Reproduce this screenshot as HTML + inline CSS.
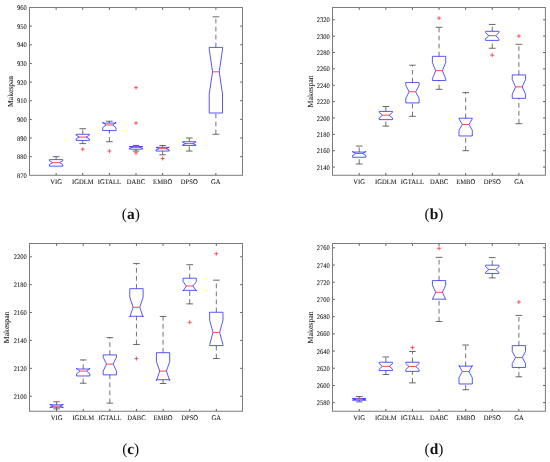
<!DOCTYPE html>
<html><head><meta charset="utf-8"><title>Boxplots</title>
<style>
html,body{margin:0;padding:0;background:#fff}
svg{display:block}
text{font-family:"Liberation Serif","DejaVu Serif",serif;fill:#111;stroke:#111;stroke-width:.06;text-rendering:geometricPrecision}
.ax{stroke:#7c7c7c;stroke-width:1;fill:none}
.tk{stroke:#5c5c5c;stroke-width:1;fill:none}
.bx{stroke:#2626ff;stroke-width:.78;fill:none;stroke-linejoin:miter}
.md{stroke:#ff3030;stroke-width:.9;fill:none}
.wh{stroke:#444;stroke-width:.75;fill:none;stroke-dasharray:4.7 3.3}
.cp{stroke:#444;stroke-width:.8;fill:none}
.ol{stroke:#ff2626;stroke-width:.75;fill:none}
.t{font-size:7.0px;text-anchor:end}
.x{font-size:7.0px;text-anchor:middle}
.y{font-size:7.5px;text-anchor:middle}
.c{font-size:15.4px;text-anchor:middle;fill:#111;stroke:none}
</style></head><body>
<svg width="550" height="462" viewBox="0 0 550 462">
<rect width="550" height="462" fill="#fff"/>
<g id="panel-a">
<path class="tk" d="M29.5 156.66h2.3M242.5 156.66h-2.3M29.5 138.01h2.3M242.5 138.01h-2.3M29.5 119.37h2.3M242.5 119.37h-2.3M29.5 100.72h2.3M242.5 100.72h-2.3M29.5 82.08h2.3M242.5 82.08h-2.3M29.5 63.43h2.3M242.5 63.43h-2.3M29.5 44.79h2.3M242.5 44.79h-2.3M29.5 26.14h2.3M242.5 26.14h-2.3M56.12 175.3v-2.3M56.12 7.5v2.3M82.75 175.3v-2.3M82.75 7.5v2.3M109.38 175.3v-2.3M109.38 7.5v2.3M136 175.3v-2.3M136 7.5v2.3M162.62 175.3v-2.3M162.62 7.5v2.3M189.25 175.3v-2.3M189.25 7.5v2.3M215.88 175.3v-2.3M215.88 7.5v2.3"/>
<rect class="ax" x="29.5" y="7.5" width="213" height="167.8"/>
<text class="t" transform="translate(26.8 177.85) scale(0.93 1)">870</text>
<text class="t" transform="translate(26.8 159.21) scale(0.93 1)">880</text>
<text class="t" transform="translate(26.8 140.56) scale(0.93 1)">890</text>
<text class="t" transform="translate(26.8 121.92) scale(0.93 1)">900</text>
<text class="t" transform="translate(26.8 103.27) scale(0.93 1)">910</text>
<text class="t" transform="translate(26.8 84.63) scale(0.93 1)">920</text>
<text class="t" transform="translate(26.8 65.98) scale(0.93 1)">930</text>
<text class="t" transform="translate(26.8 47.34) scale(0.93 1)">940</text>
<text class="t" transform="translate(26.8 28.69) scale(0.93 1)">950</text>
<text class="t" transform="translate(26.8 10.05) scale(0.93 1)">960</text>
<text class="x" transform="translate(56.12 184.2) scale(0.94 1)">VIG</text>
<text class="x" transform="translate(82.75 184.2) scale(0.94 1)">IGDLM</text>
<text class="x" transform="translate(109.38 184.2) scale(0.94 1)">IGTALL</text>
<text class="x" transform="translate(136 184.2) scale(0.94 1)">DABC</text>
<text class="x" transform="translate(162.62 184.2) scale(0.94 1)">EMBO</text>
<text class="x" transform="translate(189.25 184.2) scale(0.94 1)">DPSO</text>
<text class="x" transform="translate(215.88 184.2) scale(0.94 1)">GA</text>
<text class="y" style="font-size:7.55px" transform="translate(12.9 91.4) rotate(-90) scale(1.0 1)">Makespan</text>
<path class="wh" d="M56.12 159.64V156.66"/><path class="cp" d="M52.8 156.66h6.65"/><path class="bx" d="M49.48 166.16L49.48 164.49L52.8 162.62L49.48 160.76L49.48 159.64L62.77 159.64L62.77 160.76L59.45 162.62L62.77 164.49L62.77 166.16Z"/><path class="md" d="M52.8 162.62h6.65"/>
<path class="wh" d="M82.75 134.28V128.69"/><path class="cp" d="M79.42 128.69h6.65"/><path class="wh" d="M82.75 143.6V140.43"/><path class="cp" d="M79.42 143.6h6.65"/><path class="bx" d="M76.1 140.43L76.1 138.94L79.42 137.08L76.1 135.21L76.1 134.28L89.4 134.28L89.4 135.21L86.08 137.08L89.4 138.94L89.4 140.43Z"/><path class="md" d="M79.42 137.08h6.65"/><path class="ol" d="M80.75 149.2h4M82.75 147.2v4"/>
<path class="wh" d="M109.38 123.1V121.23"/><path class="cp" d="M106.05 121.23h6.65"/><path class="wh" d="M109.38 141.74V130.55"/><path class="cp" d="M106.05 141.74h6.65"/><path class="bx" d="M102.72 130.55L102.72 127.57L106.05 124.96L102.72 122.35L102.72 123.1L116.03 123.1L116.03 122.35L112.7 124.96L116.03 127.57L116.03 130.55Z"/><path class="md" d="M106.05 124.96h6.65"/><path class="ol" d="M107.38 151.06h4M109.38 149.06v4"/>
<path class="wh" d="M136 146.59V145.47"/><path class="cp" d="M132.68 145.47h6.65"/><path class="wh" d="M136 151.06V149.2"/><path class="cp" d="M132.68 151.06h6.65"/><path class="bx" d="M129.35 149.2L129.35 148.27L132.68 147.33L129.35 146.4L129.35 146.59L142.65 146.59L142.65 146.4L139.32 147.33L142.65 148.27L142.65 149.2Z"/><path class="md" d="M132.68 147.33h6.65"/><path class="ol" d="M134 152.93h4M136 150.93v4"/><path class="ol" d="M134 123.1h4M136 121.1v4"/><path class="ol" d="M134 87.67h4M136 85.67v4"/>
<path class="wh" d="M162.62 147.33V145.47"/><path class="cp" d="M159.3 145.47h6.65"/><path class="wh" d="M162.62 154.79V151.06"/><path class="cp" d="M159.3 154.79h6.65"/><path class="bx" d="M155.97 151.06L155.97 149.94L159.3 148.64L155.97 147.33L155.97 147.33L169.28 147.33L169.28 147.33L165.95 148.64L169.28 149.94L169.28 151.06Z"/><path class="md" d="M159.3 148.64h6.65"/><path class="ol" d="M160.62 158.52h4M162.62 156.52v4"/>
<path class="wh" d="M189.25 141.74V138.01"/><path class="cp" d="M185.93 138.01h6.65"/><path class="wh" d="M189.25 151.06V145.47"/><path class="cp" d="M185.93 151.06h6.65"/><path class="bx" d="M182.6 145.47L182.6 144.91L185.93 143.6L182.6 142.3L182.6 141.74L195.9 141.74L195.9 142.3L192.57 143.6L195.9 144.91L195.9 145.47Z"/><path class="md" d="M185.93 143.6h6.65"/>
<path class="wh" d="M215.88 47.4V16.82"/><path class="cp" d="M212.55 16.82h6.65"/><path class="wh" d="M215.88 134.28V113.03"/><path class="cp" d="M212.55 134.28h6.65"/><path class="bx" d="M209.22 113.03L209.22 94.01L212.55 71.82L209.22 49.45L209.22 47.4L222.53 47.4L222.53 49.45L219.2 71.82L222.53 94.01L222.53 113.03Z"/><path class="md" d="M212.55 71.82h6.65"/>
<text class="c" x="130.8" y="218.9">(<tspan font-weight="bold">a</tspan>)</text>
</g>
<g id="panel-b">
<path class="tk" d="M332.5 167.07h2.3M545.4 167.07h-2.3M332.5 150.7h2.3M545.4 150.7h-2.3M332.5 134.34h2.3M545.4 134.34h-2.3M332.5 117.97h2.3M545.4 117.97h-2.3M332.5 101.6h2.3M545.4 101.6h-2.3M332.5 85.24h2.3M545.4 85.24h-2.3M332.5 68.87h2.3M545.4 68.87h-2.3M332.5 52.51h2.3M545.4 52.51h-2.3M332.5 36.14h2.3M545.4 36.14h-2.3M332.5 19.77h2.3M545.4 19.77h-2.3M359.21 175.25v-2.3M359.21 7.5v2.3M385.83 175.25v-2.3M385.83 7.5v2.3M412.44 175.25v-2.3M412.44 7.5v2.3M439.05 175.25v-2.3M439.05 7.5v2.3M465.66 175.25v-2.3M465.66 7.5v2.3M492.27 175.25v-2.3M492.27 7.5v2.3M518.89 175.25v-2.3M518.89 7.5v2.3"/>
<rect class="ax" x="332.5" y="7.5" width="212.9" height="167.75"/>
<text class="t" transform="translate(329.8 169.62) scale(0.93 1)">2140</text>
<text class="t" transform="translate(329.8 153.25) scale(0.93 1)">2160</text>
<text class="t" transform="translate(329.8 136.89) scale(0.93 1)">2180</text>
<text class="t" transform="translate(329.8 120.52) scale(0.93 1)">2200</text>
<text class="t" transform="translate(329.8 104.15) scale(0.93 1)">2220</text>
<text class="t" transform="translate(329.8 87.79) scale(0.93 1)">2240</text>
<text class="t" transform="translate(329.8 71.42) scale(0.93 1)">2260</text>
<text class="t" transform="translate(329.8 55.06) scale(0.93 1)">2280</text>
<text class="t" transform="translate(329.8 38.69) scale(0.93 1)">2300</text>
<text class="t" transform="translate(329.8 22.32) scale(0.93 1)">2320</text>
<text class="x" transform="translate(359.21 184.15) scale(0.94 1)">VIG</text>
<text class="x" transform="translate(385.83 184.15) scale(0.94 1)">IGDLM</text>
<text class="x" transform="translate(412.44 184.15) scale(0.94 1)">IGTALL</text>
<text class="x" transform="translate(439.05 184.15) scale(0.94 1)">DABC</text>
<text class="x" transform="translate(465.66 184.15) scale(0.94 1)">EMBO</text>
<text class="x" transform="translate(492.27 184.15) scale(0.94 1)">DPSO</text>
<text class="x" transform="translate(518.89 184.15) scale(0.94 1)">GA</text>
<text class="y" style="font-size:7.8px" transform="translate(312.6 91.38) rotate(-90) scale(1.0 1)">Makespan</text>
<path class="wh" d="M359.21 152.09V146.04"/><path class="cp" d="M355.89 146.04h6.65"/><path class="wh" d="M359.21 163.96V157.25"/><path class="cp" d="M355.89 163.96h6.65"/><path class="bx" d="M352.56 157.25L352.56 155.53L355.89 153.48L352.56 151.44L352.56 152.09L365.86 152.09L365.86 151.44L362.54 153.48L365.86 155.53L365.86 157.25Z"/><path class="md" d="M355.89 153.48h6.65"/>
<path class="wh" d="M385.83 111.42V106.51"/><path class="cp" d="M382.5 106.51h6.65"/><path class="wh" d="M385.83 126.15V119.61"/><path class="cp" d="M382.5 126.15h6.65"/><path class="bx" d="M379.18 119.61L379.18 117.97L382.5 115.19L379.18 112.41L379.18 111.42L392.48 111.42L392.48 112.41L389.15 115.19L392.48 117.97L392.48 119.61Z"/><path class="md" d="M382.5 115.19h6.65"/>
<path class="wh" d="M412.44 82.54V65.19"/><path class="cp" d="M409.11 65.19h6.65"/><path class="wh" d="M412.44 116.33V102.91"/><path class="cp" d="M409.11 116.33h6.65"/><path class="bx" d="M405.79 102.91L405.79 98.33L409.11 91.78L405.79 85.24L405.79 82.54L419.09 82.54L419.09 85.24L415.76 91.78L419.09 98.33L419.09 102.91Z"/><path class="md" d="M409.11 91.78h6.65"/>
<path class="wh" d="M439.05 56.35V27.3"/><path class="cp" d="M435.73 27.3h6.65"/><path class="wh" d="M439.05 89.33V80.49"/><path class="cp" d="M435.73 89.33h6.65"/><path class="bx" d="M432.4 80.49L432.4 78.69L435.73 70.67L432.4 62.73L432.4 56.35L445.7 56.35L445.7 62.73L442.38 70.67L445.7 78.69L445.7 80.49Z"/><path class="md" d="M435.73 70.67h6.65"/><path class="ol" d="M437.05 18.14h4M439.05 16.14v4"/>
<path class="wh" d="M465.66 118.22V92.6"/><path class="cp" d="M462.34 92.6h6.65"/><path class="wh" d="M465.66 150.7V135.97"/><path class="cp" d="M462.34 150.7h6.65"/><path class="bx" d="M459.01 135.97L459.01 130.24L462.34 124.52L459.01 118.79L459.01 118.22L472.31 118.22L472.31 118.79L468.99 124.52L472.31 130.24L472.31 135.97Z"/><path class="md" d="M462.34 124.52h6.65"/>
<path class="wh" d="M492.27 31.31V24.44"/><path class="cp" d="M488.95 24.44h6.65"/><path class="wh" d="M492.27 48.25V40.4"/><path class="cp" d="M488.95 48.25h6.65"/><path class="bx" d="M485.62 40.4L485.62 38.6L488.95 35.65L485.62 32.7L485.62 31.31L498.92 31.31L498.92 32.7L495.6 35.65L498.92 38.6L498.92 40.4Z"/><path class="md" d="M488.95 35.65h6.65"/><path class="ol" d="M490.27 55.21h4M492.27 53.21v4"/>
<path class="wh" d="M518.89 74.93V44.32"/><path class="cp" d="M515.56 44.32h6.65"/><path class="wh" d="M518.89 123.7V98.33"/><path class="cp" d="M515.56 123.7h6.65"/><path class="bx" d="M512.24 98.33L512.24 94.24L515.56 86.87L512.24 79.51L512.24 74.93L525.54 74.93L525.54 79.51L522.21 86.87L525.54 94.24L525.54 98.33Z"/><path class="md" d="M515.56 86.87h6.65"/><path class="ol" d="M516.89 36.14h4M518.89 34.14v4"/>
<text class="c" x="434" y="218.9">(<tspan font-weight="bold">b</tspan>)</text>
</g>
<g id="panel-c">
<path class="tk" d="M29.5 396.19h2.3M242.5 396.19h-2.3M29.5 368.3h2.3M242.5 368.3h-2.3M29.5 340.41h2.3M242.5 340.41h-2.3M29.5 312.52h2.3M242.5 312.52h-2.3M29.5 284.64h2.3M242.5 284.64h-2.3M29.5 256.75h2.3M242.5 256.75h-2.3M56.58 411.25v-2.3M56.58 243.5v2.3M83.2 411.25v-2.3M83.2 243.5v2.3M109.83 411.25v-2.3M109.83 243.5v2.3M136.45 411.25v-2.3M136.45 243.5v2.3M163.07 411.25v-2.3M163.07 243.5v2.3M189.7 411.25v-2.3M189.7 243.5v2.3M216.32 411.25v-2.3M216.32 243.5v2.3"/>
<rect class="ax" x="29.5" y="243.5" width="213" height="167.75"/>
<text class="t" transform="translate(26.8 398.74) scale(0.93 1)">2100</text>
<text class="t" transform="translate(26.8 370.85) scale(0.93 1)">2120</text>
<text class="t" transform="translate(26.8 342.96) scale(0.93 1)">2140</text>
<text class="t" transform="translate(26.8 315.07) scale(0.93 1)">2160</text>
<text class="t" transform="translate(26.8 287.19) scale(0.93 1)">2180</text>
<text class="t" transform="translate(26.8 259.3) scale(0.93 1)">2200</text>
<text class="x" transform="translate(56.58 420.15) scale(0.94 1)">VIG</text>
<text class="x" transform="translate(83.2 420.15) scale(0.94 1)">IGDLM</text>
<text class="x" transform="translate(109.83 420.15) scale(0.94 1)">IGTALL</text>
<text class="x" transform="translate(136.45 420.15) scale(0.94 1)">DABC</text>
<text class="x" transform="translate(163.07 420.15) scale(0.94 1)">EMBO</text>
<text class="x" transform="translate(189.7 420.15) scale(0.94 1)">DPSO</text>
<text class="x" transform="translate(216.32 420.15) scale(0.94 1)">GA</text>
<text class="y" style="font-size:7.7px" transform="translate(9.4 327.38) rotate(-90) scale(1.0 1)">Makespan</text>
<path class="wh" d="M56.58 404.84V401.77"/><path class="cp" d="M53.25 401.77h6.65"/><path class="wh" d="M56.58 408.88V407.21"/><path class="cp" d="M53.25 408.88h6.65"/><path class="bx" d="M49.93 407.21L49.93 407.69L53.25 406.09L49.93 404.28L49.93 404.84L63.23 404.84L63.23 404.28L59.9 406.09L63.23 407.69L63.23 407.21Z"/><path class="md" d="M53.25 406.09h6.65"/>
<path class="wh" d="M83.2 369V359.93"/><path class="cp" d="M79.88 359.93h6.65"/><path class="wh" d="M83.2 383.22V375.97"/><path class="cp" d="M79.88 383.22h6.65"/><path class="bx" d="M76.55 375.97L76.55 373.88L79.88 371.09L76.55 368.3L76.55 369L89.85 369L89.85 368.3L86.53 371.09L89.85 373.88L89.85 375.97Z"/><path class="md" d="M79.88 371.09h6.65"/>
<path class="wh" d="M109.83 354.92V337.62"/><path class="cp" d="M106.5 337.62h6.65"/><path class="wh" d="M109.83 403.16V374.86"/><path class="cp" d="M106.5 403.16h6.65"/><path class="bx" d="M103.17 374.86L103.17 371.09L106.5 364.12L103.17 357.15L103.17 354.92L116.48 354.92L116.48 357.15L113.15 364.12L116.48 371.09L116.48 374.86Z"/><path class="md" d="M106.5 364.12h6.65"/>
<path class="wh" d="M136.45 288.68V263.58"/><path class="cp" d="M133.12 263.58h6.65"/><path class="wh" d="M136.45 344.46V316.29"/><path class="cp" d="M133.12 344.46h6.65"/><path class="bx" d="M129.8 316.29L129.8 316.99L133.12 307.23L129.8 297.19L129.8 288.68L143.1 288.68L143.1 297.19L139.77 307.23L143.1 316.99L143.1 316.29Z"/><path class="md" d="M133.12 307.23h6.65"/><path class="ol" d="M134.45 358.54h4M136.45 356.54v4"/>
<path class="wh" d="M163.07 352.68V316.43"/><path class="cp" d="M159.75 316.43h6.65"/><path class="wh" d="M163.07 383.5V379.74"/><path class="cp" d="M159.75 383.5h6.65"/><path class="bx" d="M156.42 379.74L156.42 380.57L159.75 371.09L156.42 361.61L156.42 352.68L169.72 352.68L169.72 361.61L166.4 371.09L169.72 380.57L169.72 379.74Z"/><path class="md" d="M159.75 371.09h6.65"/>
<path class="wh" d="M189.7 278.22V264.7"/><path class="cp" d="M186.38 264.7h6.65"/><path class="wh" d="M189.7 303.88V290.35"/><path class="cp" d="M186.38 303.88h6.65"/><path class="bx" d="M183.05 290.35L183.05 291.05L186.38 286.03L183.05 281.57L183.05 278.22L196.35 278.22L196.35 281.57L193.02 286.03L196.35 291.05L196.35 290.35Z"/><path class="md" d="M186.38 286.03h6.65"/><path class="ol" d="M187.7 322.29h4M189.7 320.29v4"/>
<path class="wh" d="M216.32 312.25V280.17"/><path class="cp" d="M213 280.17h6.65"/><path class="wh" d="M216.32 358.54V345.57"/><path class="cp" d="M213 358.54h6.65"/><path class="bx" d="M209.67 345.57L209.67 344.6L213 332.46L209.67 320.19L209.67 312.25L222.97 312.25L222.97 320.19L219.65 332.46L222.97 344.6L222.97 345.57Z"/><path class="md" d="M213 332.46h6.65"/><path class="ol" d="M214.32 253.68h4M216.32 251.68v4"/>
<text class="c" x="130.7" y="453.7">(<tspan font-weight="bold">c</tspan>)</text>
</g>
<g id="panel-d">
<path class="tk" d="M332.5 402.65h2.3M545.4 402.65h-2.3M332.5 385.44h2.3M545.4 385.44h-2.3M332.5 368.24h2.3M545.4 368.24h-2.3M332.5 351.03h2.3M545.4 351.03h-2.3M332.5 333.83h2.3M545.4 333.83h-2.3M332.5 316.62h2.3M545.4 316.62h-2.3M332.5 299.42h2.3M545.4 299.42h-2.3M332.5 282.21h2.3M545.4 282.21h-2.3M332.5 265.01h2.3M545.4 265.01h-2.3M332.5 247.8h2.3M545.4 247.8h-2.3M359.21 411.25v-2.3M359.21 243.5v2.3M385.83 411.25v-2.3M385.83 243.5v2.3M412.44 411.25v-2.3M412.44 243.5v2.3M439.05 411.25v-2.3M439.05 243.5v2.3M465.66 411.25v-2.3M465.66 243.5v2.3M492.27 411.25v-2.3M492.27 243.5v2.3M518.89 411.25v-2.3M518.89 243.5v2.3"/>
<rect class="ax" x="332.5" y="243.5" width="212.9" height="167.75"/>
<text class="t" transform="translate(329.8 405.2) scale(0.93 1)">2580</text>
<text class="t" transform="translate(329.8 387.99) scale(0.93 1)">2600</text>
<text class="t" transform="translate(329.8 370.79) scale(0.93 1)">2620</text>
<text class="t" transform="translate(329.8 353.58) scale(0.93 1)">2640</text>
<text class="t" transform="translate(329.8 336.38) scale(0.93 1)">2660</text>
<text class="t" transform="translate(329.8 319.17) scale(0.93 1)">2680</text>
<text class="t" transform="translate(329.8 301.97) scale(0.93 1)">2700</text>
<text class="t" transform="translate(329.8 284.76) scale(0.93 1)">2720</text>
<text class="t" transform="translate(329.8 267.56) scale(0.93 1)">2740</text>
<text class="t" transform="translate(329.8 250.35) scale(0.93 1)">2760</text>
<text class="x" transform="translate(359.21 420.15) scale(0.94 1)">VIG</text>
<text class="x" transform="translate(385.83 420.15) scale(0.94 1)">IGDLM</text>
<text class="x" transform="translate(412.44 420.15) scale(0.94 1)">IGTALL</text>
<text class="x" transform="translate(439.05 420.15) scale(0.94 1)">DABC</text>
<text class="x" transform="translate(465.66 420.15) scale(0.94 1)">EMBO</text>
<text class="x" transform="translate(492.27 420.15) scale(0.94 1)">DPSO</text>
<text class="x" transform="translate(518.89 420.15) scale(0.94 1)">GA</text>
<text class="y" style="font-size:7.8px" transform="translate(312.6 327.38) rotate(-90) scale(1.0 1)">Makespan</text>
<path class="wh" d="M359.21 398.43V396.54"/><path class="cp" d="M355.89 396.54h6.65"/><path class="wh" d="M359.21 401.87V400.24"/><path class="cp" d="M355.89 401.87h6.65"/><path class="bx" d="M352.56 400.24L352.56 399.89L355.89 399.29L352.56 398.69L352.56 398.43L365.86 398.43L365.86 398.69L362.54 399.29L365.86 399.89L365.86 400.24Z"/><path class="md" d="M355.89 399.29h6.65"/>
<path class="wh" d="M385.83 362.22V356.97"/><path class="cp" d="M382.5 356.97h6.65"/><path class="wh" d="M385.83 374.52V370.56"/><path class="cp" d="M382.5 374.52h6.65"/><path class="bx" d="M379.18 370.56L379.18 369.1L382.5 366.34L379.18 363.59L379.18 362.22L392.48 362.22L392.48 363.59L389.15 366.34L392.48 369.1L392.48 370.56Z"/><path class="md" d="M382.5 366.34h6.65"/>
<path class="wh" d="M412.44 362.22V351.46"/><path class="cp" d="M409.11 351.46h6.65"/><path class="wh" d="M412.44 382.86V371.33"/><path class="cp" d="M409.11 382.86h6.65"/><path class="bx" d="M405.79 371.33L405.79 369.53L409.11 366.52L405.79 363.51L405.79 362.22L419.09 362.22L419.09 363.51L415.76 366.52L419.09 369.53L419.09 371.33Z"/><path class="md" d="M409.11 366.52h6.65"/><path class="ol" d="M410.44 347.59h4M412.44 345.59v4"/>
<path class="wh" d="M439.05 280.58V257.35"/><path class="cp" d="M435.73 257.35h6.65"/><path class="wh" d="M439.05 321.53V299.16"/><path class="cp" d="M435.73 321.53h6.65"/><path class="bx" d="M432.4 299.16L432.4 299.42L435.73 292.28L432.4 285.22L432.4 280.58L445.7 280.58L445.7 285.22L442.38 292.28L445.7 299.42L445.7 299.16Z"/><path class="md" d="M435.73 292.28h6.65"/><path class="ol" d="M437.05 248.32h4M439.05 246.32v4"/>
<path class="wh" d="M465.66 366.17V345.01"/><path class="cp" d="M462.34 345.01h6.65"/><path class="wh" d="M465.66 389.74V383.98"/><path class="cp" d="M462.34 389.74h6.65"/><path class="bx" d="M459.01 383.98L459.01 377.7L462.34 371.59L459.01 365.48L459.01 366.17L472.31 366.17L472.31 365.48L468.99 371.59L472.31 377.7L472.31 383.98Z"/><path class="md" d="M462.34 371.59h6.65"/>
<path class="wh" d="M492.27 265.18V257.61"/><path class="cp" d="M488.95 257.61h6.65"/><path class="wh" d="M492.27 277.91V273.44"/><path class="cp" d="M488.95 277.91h6.65"/><path class="bx" d="M485.62 273.44L485.62 272.23L488.95 269.48L485.62 266.73L485.62 265.18L498.92 265.18L498.92 266.73L495.6 269.48L498.92 272.23L498.92 273.44Z"/><path class="md" d="M488.95 269.48h6.65"/>
<path class="wh" d="M518.89 345.61V315.42"/><path class="cp" d="M515.56 315.42h6.65"/><path class="wh" d="M518.89 376.84V367.46"/><path class="cp" d="M515.56 376.84h6.65"/><path class="bx" d="M512.24 367.46L512.24 363.51L515.56 357.57L512.24 351.46L512.24 345.61L525.54 345.61L525.54 351.46L522.21 357.57L525.54 363.51L525.54 367.46Z"/><path class="md" d="M515.56 357.57h6.65"/><path class="ol" d="M516.89 302h4M518.89 300v4"/>
<text class="c" x="434" y="453.7">(<tspan font-weight="bold">d</tspan>)</text>
</g>
</svg>
</body></html>
